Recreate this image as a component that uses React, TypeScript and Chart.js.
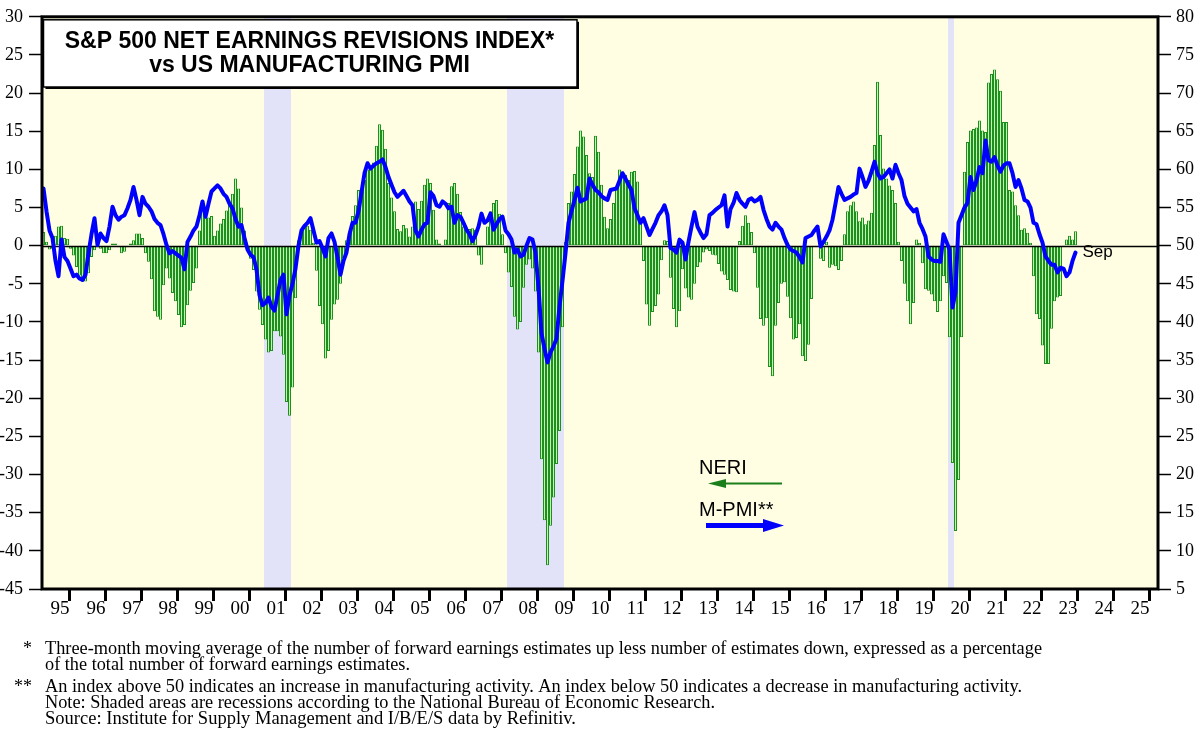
import React, { useEffect, useRef } from 'react';
import { Chart, registerables } from 'chart.js';

Chart.register(...registerables);

// Time axis: monthly observations from Jan 1995, axis runs 1995..2026
const FIRST_YEAR = 1995;
const LAST_YEAR = 2026;
const YEAR_LABELS = [
  '95', '96', '97', '98', '99', '00', '01', '02', '03', '04', '05', '06', '07', '08', '09', '10',
  '11', '12', '13', '14', '15', '16', '17', '18', '19', '20', '21', '22', '23', '24', '25',
];

// S&P 500 Net Earnings Revisions Index (3-month avg, %), monthly from Jan 1995 to Sep 2023
const NERI: number[] = [
  1.8, 0.5, -0.5, -0.4, 1.3, 2.5, 2.6, 1.0, 0.9, -0.4,
  -1.3, -2.8, -3.9, -4.7, -4.7, -3.6, -1.5, -0.6, -0.2, -0.4,
  -1.0, -1.0, -0.6, 0.3, 0.3, -0.2, -1.0, -0.8, -0.2, 0.3,
  0.7, 1.6, 1.6, 1.0, -1.0, -2.1, -4.4, -8.6, -9.3, -9.7,
  -5.2, -3.0, -4.3, -6.2, -7.3, -9.1, -10.7, -10.4, -7.8, -5.9,
  -4.9, -3.0, 2.0, 5.0, 3.7, 3.7, 3.9, 1.3, 2.0, 2.9,
  3.5, 4.6, 5.5, 6.8, 8.8, 7.5, 5.0, 2.0, 0.0, -1.7,
  -3.2, -6.0, -8.4, -10.4, -12.3, -14.0, -13.8, -11.2, -11.2, -11.9,
  -14.3, -20.5, -22.3, -18.6, -6.9, 0.7, 2.0, 2.6, 2.6, 2.1,
  0.4, -3.3, -7.9, -10.3, -14.8, -13.8, -9.7, -7.7, -7.1, -5.0,
  -1.6, 0.7, 1.9, 3.9, 5.3, 7.3, 6.6, 8.6, 10.0, 10.3,
  10.9, 13.1, 15.9, 15.2, 12.7, 8.2, 6.3, 4.5, 2.2, 1.9,
  2.7, 2.3, 1.2, 2.5, 5.8, 4.8, 5.9, 8.0, 8.8, 8.2,
  4.7, 0.8, 0.3, 0.1, 0.8, 5.6, 7.8, 8.2, 6.8, 4.4,
  2.5, 2.0, 2.2, 2.3, 2.1, -1.3, -2.5, 0.0, 2.5, 4.5,
  5.6, 6.0, 4.2, 1.5, -1.0, -3.5, -5.4, -9.3, -11.0, -10.0,
  -5.5, -2.5, -1.8, -3.0, -6.0, -14.0, -28.0, -36.0, -41.9, -36.7,
  -33.0, -28.6, -24.3, -10.7, 0.5, 5.6, 7.1, 9.4, 13.0, 15.1,
  14.3, 11.9, 9.5, 9.0, 14.4, 12.3, 8.0, 3.8, 2.3, 3.5,
  5.6, 7.8, 10.0, 9.7, 9.3, 8.6, 9.7, 9.8, 8.4, 3.0,
  -2.0, -7.7, -10.5, -8.7, -7.9, -6.4, -1.9, 0.7, 0.6, -4.2,
  -8.3, -10.7, -8.6, -3.1, -5.6, -6.8, -7.1, -5.0, -2.8, -2.2,
  -0.9, -0.5, -0.7, -1.2, -1.3, -2.4, -3.4, -3.8, -4.5, -5.8,
  -6.0, -6.1, 0.6, 2.6, 4.0, 3.0, 1.8, -1.0, -5.5, -9.6,
  -10.5, -9.5, -15.9, -17.1, -10.5, -7.5, -5.0, -4.8, -6.7, -9.5,
  -12.3, -12.1, -10.3, -14.5, -15.1, -13.0, -7.0, 0.0, 0.0, -1.7,
  -2.0, 0.5, -2.9, -2.5, -2.7, -3.2, -2.0, 1.5, 4.5, 5.3,
  5.8, 4.5, 3.2, 3.7, 2.8, 3.3, 4.3, 13.2, 21.5, 14.5,
  10.1, 8.8, 7.9, 7.3, 5.6, 0.5, -2.0, -5.0, -7.3, -10.3,
  -7.5, 0.8, 0.4, -2.3, -5.7, -5.9, -6.4, -7.3, -8.7, -7.3,
  -4.0, -4.9, -12.0, -28.5, -37.4, -30.7, -12.0, 9.7, 13.6, 15.1,
  15.3, 15.5, 16.4, 15.1, 14.9, 21.4, 22.5, 23.1, 21.8, 20.3,
  16.2, 16.2, 7.3, 7.1, 5.3, 4.0, 2.1, 2.3, 1.7, 0.4,
  -4.0, -9.0, -9.6, -13.1, -15.5, -15.5, -10.9, -7.3, -6.8, -6.6,
  0.1, 0.8, 1.3, 0.8, 1.9,
];

// ISM Manufacturing PMI, monthly from Jan 1995 to Sep 2023
const PMI: number[] = [
  57.5, 54.5, 52.0, 51.0, 48.0, 46.0, 50.8, 48.5, 48.0, 47.0,
  46.0, 46.2, 45.7, 45.5, 46.2, 49.0, 51.5, 53.6, 50.1, 51.6,
  51.0, 50.6, 52.5, 55.1, 54.0, 53.4, 53.8, 54.0, 54.9, 56.0,
  57.7, 56.0, 54.0, 56.4, 55.5, 55.1, 54.5, 53.5, 53.0, 52.7,
  51.5, 50.1, 49.0, 49.3, 49.0, 48.7, 48.4, 46.9, 50.5, 51.2,
  52.0, 52.5, 54.0, 55.8, 53.8, 55.5, 57.1, 57.5, 57.9, 57.5,
  56.8, 56.4, 55.5, 54.9, 53.5, 52.5, 52.7, 51.0, 49.5, 48.8,
  48.5, 46.9, 43.5, 42.2, 42.5, 43.2, 42.0, 41.5, 43.5, 45.5,
  46.2, 41.0, 43.5, 45.0, 47.0, 50.0, 52.0, 52.6, 53.0, 53.6,
  52.0, 50.4, 50.6, 49.7, 48.6, 51.0, 51.6, 50.5, 48.5, 46.2,
  48.0, 49.1, 51.5, 53.0, 53.0, 54.5, 57.0, 59.5, 60.8, 60.1,
  60.5, 60.8, 61.0, 61.3, 60.3, 59.0, 58.0, 57.0, 56.4, 56.8,
  57.2, 56.5, 55.8, 55.3, 52.0, 51.2, 52.1, 52.8, 53.0, 57.0,
  56.5, 55.3, 55.1, 55.8, 55.5, 54.9, 55.1, 53.0, 54.0, 53.8,
  53.0, 52.1, 51.5, 50.6, 51.4, 52.5, 54.2, 53.0, 53.3, 54.2,
  52.1, 52.8, 53.5, 53.8, 52.0, 51.5, 50.8, 49.1, 49.5, 48.6,
  48.8, 50.0, 51.0, 50.8, 49.1, 44.5, 38.5, 36.5, 34.7, 36.0,
  36.8, 37.8, 42.0, 45.4, 49.0, 53.0, 54.5, 56.0, 57.6, 55.8,
  56.0, 56.2, 58.8, 58.0, 57.3, 57.0, 56.5, 56.2, 56.0, 57.3,
  57.4, 57.5, 58.5, 59.5, 58.8, 58.0, 57.3, 54.9, 54.0, 53.0,
  53.6, 52.5, 51.4, 52.2, 53.0, 54.0, 54.5, 55.3, 54.0, 49.7,
  49.5, 49.1, 50.8, 50.4, 48.2, 50.5, 52.5, 54.4, 52.5, 51.7,
  51.0, 51.5, 54.0, 54.3, 54.7, 55.0, 55.3, 56.6, 52.5, 54.8,
  55.6, 56.9, 56.0, 55.5, 55.1, 56.0, 56.2, 55.8, 56.0, 56.4,
  54.7, 53.5, 52.5, 52.1, 53.0, 52.5, 52.1, 51.0, 50.1, 49.5,
  49.3, 49.1, 48.5, 47.8, 51.0, 51.2, 51.4, 52.0, 52.5, 49.9,
  50.5, 51.2, 52.0, 53.4, 55.5, 57.7, 56.8, 56.0, 56.2, 56.4,
  56.7, 56.9, 60.1, 59.0, 57.7, 58.5, 59.7, 61.0, 59.5, 58.8,
  59.0, 59.5, 60.0, 58.8, 60.6, 59.5, 58.6, 56.5, 55.5, 55.0,
  54.5, 54.8, 53.0, 52.2, 51.2, 48.6, 48.2, 48.0, 48.0, 47.9,
  51.5, 50.5, 49.5, 41.9, 43.9, 53.0, 54.0, 55.0, 55.6, 59.0,
  57.3, 58.5, 60.3, 59.5, 63.8, 61.2, 61.0, 61.6, 60.5, 59.7,
  60.5, 60.8, 60.8, 59.5, 57.7, 58.6, 57.5, 56.0, 55.8, 55.0,
  53.0, 52.8, 51.5, 50.4, 48.6, 48.0, 47.5, 47.5, 46.5, 47.1,
  47.0, 46.0, 46.5, 48.0, 49.1,
];

// NBER recessions, first and last month
const RECESSIONS: [string, string][] = [
  ['2001-03', '2001-11'],
  ['2007-12', '2009-06'],
  ['2020-03', '2020-04'],
];

const TITLE_LINES = ['S&P 500 NET EARNINGS REVISIONS INDEX*', 'vs US MANUFACTURING PMI'];
const LAST_MONTH_LABEL = 'Sep';
const NERI_LEGEND = 'NERI';
const PMI_LEGEND = 'M-PMI**';

const FOOTNOTES: { marker: string; text: string; width: number }[] = [
  { marker: '*', text: 'Three-month moving average of the number of forward earnings estimates up less number of estimates down, expressed as a percentage', width: 997 },
  { marker: '', text: 'of the total number of forward earnings estimates.', width: 365 },
  { marker: '**', text: 'An index above 50 indicates an increase in manufacturing activity. An index below 50 indicates a decrease in manufacturing activity.', width: 977 },
  { marker: '', text: 'Note: Shaded areas are recessions according to the National Bureau of Economic Research.', width: 670 },
  { marker: '', text: 'Source: Institute for Supply Management and I/B/E/S data by Refinitiv.', width: 531 },
];

const SERIF = '"Liberation Serif", "Times New Roman", serif';
const SANS = '"Liberation Sans", Arial, sans-serif';

// each month occupies one slot on the time axis; marks sit at the slot centre
const monthPos = (i: number) => FIRST_YEAR + (i + 0.5) / 12;
const startOf = (s: string) => {
  const [y, m] = s.split('-').map(Number);
  return y + (m - 1) / 12;
};
const endOf = (s: string) => {
  const [y, m] = s.split('-').map(Number);
  return y + m / 12;
};

const backdropPlugin = {
  id: 'backdrop',
  beforeDatasetsDraw(chart: any) {
    const { ctx, chartArea: a, scales } = chart;
    ctx.save();
    ctx.fillStyle = '#FFFEE3';
    ctx.fillRect(a.left, a.top, a.right - a.left, a.bottom - a.top);
    ctx.fillStyle = '#E2E2F8';
    RECESSIONS.forEach(([s, e]) => {
      const x0 = scales.x.getPixelForValue(startOf(s));
      const x1 = scales.x.getPixelForValue(endOf(e));
      ctx.fillRect(x0, a.top, x1 - x0, a.bottom - a.top);
    });
    ctx.restore();
  },
  afterDatasetDraw(chart: any, args: any) {
    if (args.meta.type !== 'bar') return;
    const { ctx, chartArea: a, scales } = chart;
    const y0 = Math.round(scales.y.getPixelForValue(0)) + 0.5;
    ctx.save();
    ctx.strokeStyle = '#000';
    ctx.lineWidth = 1.5;
    ctx.beginPath();
    ctx.moveTo(a.left, y0);
    ctx.lineTo(a.right, y0);
    ctx.stroke();
    ctx.restore();
  },
};

function arrow(ctx: CanvasRenderingContext2D, x0: number, x1: number, y: number, dir: number, color: string, lw: number, headLen: number, headHalf: number) {
  // dir = -1 points left (tip at x0), +1 points right (tip at x1)
  ctx.save();
  ctx.strokeStyle = color;
  ctx.fillStyle = color;
  ctx.lineWidth = lw;
  ctx.beginPath();
  if (dir < 0) {
    ctx.moveTo(x0 + headLen - 2, y);
    ctx.lineTo(x1, y);
  } else {
    ctx.moveTo(x0, y);
    ctx.lineTo(x1 - headLen + 2, y);
  }
  ctx.stroke();
  ctx.beginPath();
  if (dir < 0) {
    ctx.moveTo(x0, y);
    ctx.lineTo(x0 + headLen, y - headHalf);
    ctx.lineTo(x0 + headLen, y + headHalf);
  } else {
    ctx.moveTo(x1, y);
    ctx.lineTo(x1 - headLen, y - headHalf);
    ctx.lineTo(x1 - headLen, y + headHalf);
  }
  ctx.closePath();
  ctx.fill();
  ctx.restore();
}

const overlayPlugin = {
  id: 'overlay',
  afterDraw(chart: any) {
    const { ctx, chartArea: a, scales } = chart;
    ctx.save();

    // frame around plot
    ctx.strokeStyle = '#000';
    ctx.lineWidth = 3;
    ctx.strokeRect(a.left, a.top, a.right - a.left, a.bottom - a.top);

    // title box
    const bx = a.left + 1.5;
    const by = a.top + 3;
    const bw = 577 - bx;
    const bh = 87 - by;
    ctx.fillStyle = '#000';
    ctx.fillRect(bx + 2, by + 2, bw, bh);
    ctx.fillStyle = '#FFFFFF';
    ctx.fillRect(bx, by, bw, bh);
    ctx.lineWidth = 1.5;
    ctx.strokeStyle = '#000';
    ctx.strokeRect(bx, by, bw, bh);
    ctx.fillStyle = '#000';
    ctx.font = `bold 23px ${SANS}`;
    ctx.textAlign = 'center';
    ctx.textBaseline = 'alphabetic';
    const cx = (a.left + 577) / 2;
    ctx.fillText(TITLE_LINES[0], cx, 48);
    ctx.fillText(TITLE_LINES[1], cx, 72);

    // label at the last PMI reading
    const li = PMI.length - 1;
    const lx = scales.x.getPixelForValue(monthPos(li));
    const ly = scales.y1.getPixelForValue(PMI[li]);
    ctx.font = `17px ${SANS}`;
    ctx.textAlign = 'left';
    ctx.textBaseline = 'middle';
    ctx.fillText(LAST_MONTH_LABEL, lx + 7, ly);

    // in-plot legend with direction arrows
    ctx.font = `20px ${SANS}`;
    ctx.textBaseline = 'alphabetic';
    ctx.fillText(NERI_LEGEND, 699, 474);
    arrow(ctx, 708, 782, 483.5, -1, '#1A7F1A', 2, 18, 4.5);
    ctx.fillText(PMI_LEGEND, 699, 516);
    arrow(ctx, 706, 784, 525.5, 1, '#0000FF', 5, 21, 6.5);

    // footnotes
    ctx.font = `18px ${SERIF}`;
    let y = 654;
    FOOTNOTES.forEach((f, i) => {
      if (i === 2) y += 6;
      if (f.marker) {
        ctx.textAlign = 'right';
        ctx.fillText(f.marker, 32, y);
      }
      ctx.textAlign = 'left';
      const natural = ctx.measureText(f.text).width;
      ctx.save();
      ctx.translate(45, y);
      ctx.scale(f.width / natural, 1);
      ctx.fillText(f.text, 0, 0);
      ctx.restore();
      y += 16;
    });

    ctx.restore();
  },
};

export default function App() {
  const canvasRef = useRef<HTMLCanvasElement | null>(null);

  useEffect(() => {
    document.body.style.margin = '0';
    const canvas = canvasRef.current;
    if (!canvas) return;

    const chart = new Chart(canvas, {
      type: 'bar',
      data: {
        datasets: [
          {
            type: 'line',
            label: PMI_LEGEND,
            data: PMI.map((v, i) => ({ x: monthPos(i), y: v })),
            xAxisID: 'x',
            yAxisID: 'y1',
            borderColor: '#0000FF',
            borderWidth: 4,
            pointRadius: 0,
            tension: 0,
            borderJoinStyle: 'round',
            borderCapStyle: 'round',
            order: 0,
          } as any,
          {
            type: 'bar',
            label: NERI_LEGEND,
            data: NERI.map((v, i) => ({ x: monthPos(i), y: v })),
            xAxisID: 'x',
            yAxisID: 'y',
            backgroundColor: '#BDF8B1',
            borderColor: '#1F8E1F',
            borderWidth: 1,
            borderSkipped: false,
            barThickness: 3,
            inflateAmount: 0,
            order: 1,
          } as any,
        ],
      },
      options: {
        responsive: false,
        animation: false,
        events: [],
        layout: { padding: { top: 12, left: 0, right: 0, bottom: 0 } },
        plugins: { legend: { display: false }, tooltip: { enabled: false }, title: { display: false } },
        scales: {
          x: {
            type: 'linear',
            min: FIRST_YEAR,
            max: LAST_YEAR,
            offset: false,
            border: { display: false },
            grid: {
              drawOnChartArea: false,
              drawTicks: true,
              tickLength: 12,
              tickWidth: 3,
              tickColor: (c: any) => (c.tick && Number.isInteger(c.tick.value) ? '#000' : 'rgba(0,0,0,0)'),
            },
            ticks: {
              stepSize: 0.5,
              autoSkip: false,
              maxRotation: 0,
              minRotation: 0,
              padding: -3,
              color: '#000',
              font: { family: SERIF, size: 19 },
              callback: (v: any) => {
                const n = Number(v);
                if (Number.isInteger(n)) return '';
                return YEAR_LABELS[Math.floor(n) - FIRST_YEAR] ?? '';
              },
            },
            afterFit: (s: any) => {
              s.height = 144;
            },
          },
          y: {
            type: 'linear',
            position: 'left',
            min: -45,
            max: 30,
            border: { display: false },
            grid: { drawOnChartArea: false, drawTicks: true, tickLength: 13, tickWidth: 1.5, tickColor: '#000' },
            ticks: { stepSize: 5, padding: 6, color: '#000', font: { family: SERIF, size: 18 } },
            afterFit: (s: any) => {
              s.width = 42;
            },
          },
          y1: {
            type: 'linear',
            position: 'right',
            min: 5,
            max: 80,
            border: { display: false },
            grid: { drawOnChartArea: false, drawTicks: true, tickLength: 13, tickWidth: 1.5, tickColor: '#000' },
            ticks: { stepSize: 5, padding: 5, color: '#000', font: { family: SERIF, size: 18 } },
            afterFit: (s: any) => {
              s.width = 42;
            },
          },
        },
      } as any,
      plugins: [backdropPlugin, overlayPlugin],
    });

    return () => chart.destroy();
  }, []);

  return (
    <div style={{ position: 'fixed', left: 0, top: 0, width: 1200, height: 733, background: '#FFFFFF' }}>
      <canvas ref={canvasRef} width={1200} height={733} style={{ display: 'block', width: 1200, height: 733 }} />
    </div>
  );
}
